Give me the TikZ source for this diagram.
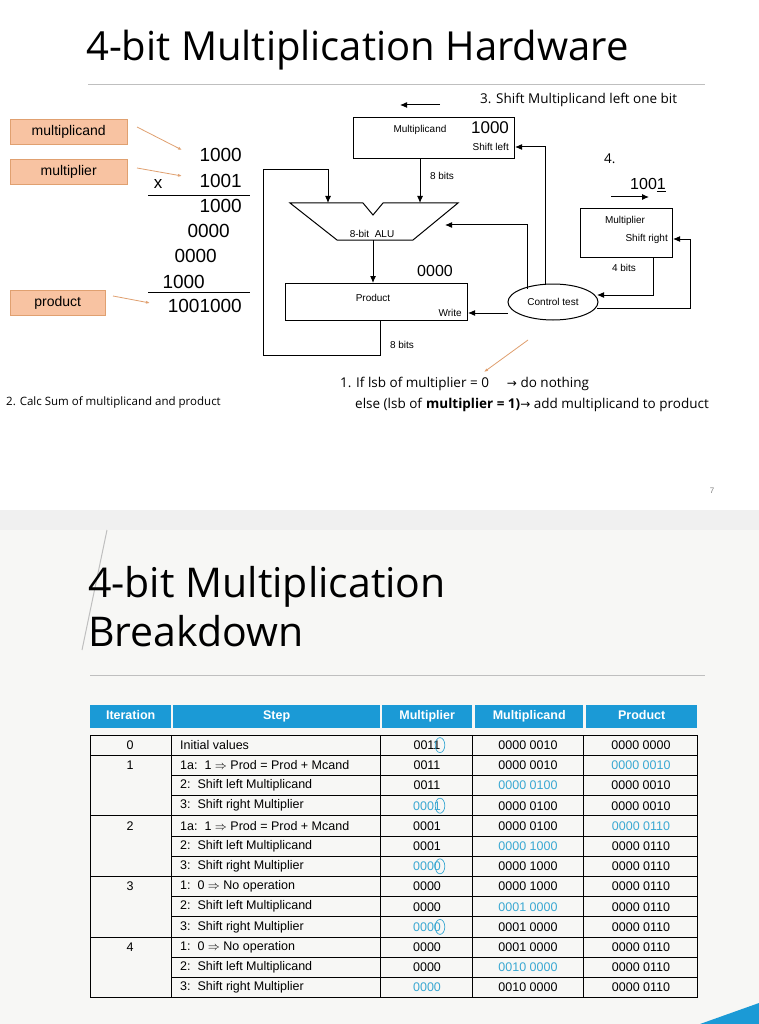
\documentclass[tikz,border=0pt]{standalone}
\usepackage{fontspec}
\setmainfont{Liberation Sans}
\newfontfamily\ttl{Open Sans}
\usetikzlibrary{arrows.meta,shapes.geometric}
\definecolor{orfill}{HTML}{F8C3A2}
\definecolor{orline}{HTML}{E0A070}
\definecolor{hdr}{HTML}{1B9AD6}
\definecolor{cy}{HTML}{3AA8D2}
\definecolor{bg2}{HTML}{F7F7F5}
\tikzset{
 x=1pt,y=-1pt,
 wire/.style={line width=1pt},
 arr/.style={wire,-{Latex[length=7pt,width=6pt]}},
 oarr/.style={orline,line width=0.8pt,-{Latex[length=4pt,width=3pt]}},
 lab/.style={draw=orline,fill=orfill,minimum height=25pt,font=\fontsize{14}{16}\selectfont,inner sep=2pt},
 big/.style={font=\fontsize{19}{21}\selectfont,inner sep=0pt},
 sm/.style={font=\fontsize{10}{12}\selectfont,inner sep=1pt},
 note/.style={font=\ttl\fontsize{13.5}{15}\selectfont,inner sep=0pt,anchor=west},
 cell/.style={font=\fontsize{12.5}{14}\selectfont,inner sep=0pt},
 hcell/.style={fill=hdr,text=white,font=\bfseries\fontsize{12.5}{14}\selectfont,inner sep=0pt,text height=9pt,text depth=2.5pt},
}
\newcommand{\trow}[6]{%
 \pgfmathsetmacro{\yc}{735+(#1+0.5)*20.2}
 \node[cell,anchor=west] (s#1) at (180,\yc) {#2};
 \node[cell] (m#1) at (427,\yc) {#3};
 \node[cell] (c#1) at (528,\yc) {#4};
 \node[cell] (p#1) at (641,\yc) {#5};
 \ifx#6y\draw[cy,line width=0.7pt] (440,\yc) ellipse (4.8 and 7.5);\fi
}
\begin{document}
\begin{tikzpicture}
\useasboundingbox (0,0) rectangle (759,1024);
\fill[white] (0,0) rectangle (759,510);
\fill[gray!12] (0,510) rectangle (759,530);
\fill[bg2] (0,530) rectangle (759,1024);
\draw[gray!50,line width=1pt] (107,530) -- (82,650);
\fill[hdr] (700,1024) -- (759,1024) -- (759,1003) -- cycle;
% ===== top slide
\node[font=\ttl\fontsize{40}{44}\selectfont,anchor=west,inner sep=0pt] (t1) at (86,50) {4-bit Multiplication Hardware};
\draw[gray!50,line width=0.8pt] (88,84) -- (705,84);
\node[note] (n3) at (480,100) {3. Shift Multiplicand left one bit};
\node[note,font=\ttl\fontsize{11.5}{13}\selectfont] (n2) at (6,402) {2. Calc Sum of multiplicand and product};
\node[note] (n1a) at (340,384) {1. If lsb of multiplier = 0\hspace{18pt}\fontspec{DejaVu Sans}\fontsize{12}{14}\selectfont→\ttl\fontsize{13.5}{15}\selectfont{} do nothing};
\node[note] (n1b) at (355,405) {else (lsb of \textbf{multiplier = 1)}\fontspec{DejaVu Sans}\fontsize{12}{14}\selectfont→\ttl\fontsize{13.5}{15}\selectfont{} add multiplicand to product};
\node[font=\fontsize{8}{9}\selectfont,text=gray] (pg) at (712,491) {7};
% labels
\node[lab,anchor=north west,minimum width=117pt] (lmc) at (10,119) {multiplicand};
\node[lab,anchor=north west,minimum width=117pt] (lmp) at (10,159) {multiplier};
\node[lab,anchor=north west,minimum width=95pt] (lpr) at (10,290) {product};
% long multiplication
\node[big,anchor=east] (a1) at (242,155) {1000};
\node[big,anchor=east] (a2) at (242,181) {1001};
\node[big,font=\fontsize{17}{19}\selectfont] (ax) at (158,184) {x};
\draw[line width=0.8pt] (148,195) -- (250,195);
\node[big,anchor=east] (a3) at (242,206) {1000};
\node[big,anchor=east] (a4) at (230,231) {0000};
\node[big,anchor=east] (a5) at (217,256) {0000};
\node[big,anchor=east] (a6) at (205,282) {1000};
\draw[line width=0.8pt] (148,292) -- (250,292);
\node[big,anchor=east] (a7) at (242,306) {1001000};
\coordinate (o1) at (137,127); \coordinate (o2) at (137,168); \coordinate (o3) at (113,296);
\coordinate (e1) at (182,150); \coordinate (e2) at (182,176); \coordinate (e3) at (150,303);
\draw[oarr] (o1) -- (e1);
\draw[oarr] (o2) -- (e2);
\draw[oarr] (o3) -- (e3);
% multiplicand box
\node[draw,line width=1pt,minimum width=161pt,minimum height=41pt,anchor=north west] (mc) at (353,117) {};
\node[sm] (mct) at (420,130) {Multiplicand};
\node[big,font=\fontsize{17}{19}\selectfont] (mcv) at (490,128) {1000};
\node[sm,anchor=east] (mcs) at (510,147) {Shift left};
\coordinate (la1) at (440,105); \coordinate (la2) at (400,105);
\draw[arr] (la1) -- (la2);
% ALU
\draw[line width=1pt] (290,203) -- (363,203) -- (373,215) -- (383,203) -- (458,203) -- (413,240) -- (337,240) -- cycle;
\node[sm] (alu) at (372,234) {8-bit\ \ ALU};
\coordinate (aluin1) at (328,203); \coordinate (aluin2) at (420,203);
\coordinate (aluout) at (373,240); \coordinate (aluc) at (445,225);
\draw[arr] (mc.south -| aluin2) -- (aluin2);
\node[sm] (b8a) at (442,176) {8 bits};
% product
\node[draw,line width=1pt,minimum width=182pt,minimum height=37pt,anchor=north west] (pr) at (285,283) {};
\node[sm] (prt) at (373,298) {Product};
\node[sm,anchor=east] (prw) at (463,313) {Write};
\node[big,font=\fontsize{16}{18}\selectfont] (pv) at (435,271) {0000};
\draw[arr] (aluout) -- (aluout |- pr.north);
\node[sm] (b8b) at (402,345) {8 bits};
\draw[arr] (pr.south -| 380,0) -- (380,355) -- (263,355) -- (263,170) -- (328,170) -- (aluin1);
% control
\node[draw,ellipse,line width=1pt,minimum width=90pt,minimum height=36pt,sm] (ct) at (553,302) {Control test};
\draw[arr] (ct.west |- 0,313) -- (pr.east |- 0,313);
\draw[arr] (545,285) -- (545,147) -- (mc.east |- 0,147);
\draw[arr] (527,289) -- (527,225) -- (aluc);
% multiplier
\node[draw,line width=1pt,minimum width=92pt,minimum height=49pt,anchor=north west] (mp) at (580,208) {};
\node[sm] (mpt) at (625,221) {Multiplier};
\node[sm,anchor=east] (mps) at (669,239) {Shift right};
\draw[arr] (653,257) -- (653,295) -- (597,295);
\node[sm] (b4) at (624,268) {4 bits};
\draw[arr] (597,308) -- (690,308) -- (690,239) -- (mp.east |- 0,239);
\node[note] (n4) at (604,159) {4.};
\node[big,font=\fontsize{16}{18}\selectfont] (mv) at (648,185) {100\underline{1}};
\coordinate (ra1) at (611,197); \coordinate (ra2) at (649,197);
\draw[arr] (ra1) -- (ra2);
\coordinate (oc1) at (528,340); \coordinate (oc2) at (484,372);
\draw[oarr] (oc1) -- (oc2);
% ===== bottom slide
\node[font=\ttl\fontsize{41}{49}\selectfont,anchor=north west,inner sep=0pt,align=left] (t2) at (88,566) {4-bit Multiplication\\Breakdown};
\draw[gray!50,line width=0.8pt] (90,675) -- (705,675);
% header
\node[hcell,minimum width=81pt,minimum height=23pt,anchor=north west] (h1) at (90,705) {Iteration};
\node[hcell,minimum width=207pt,minimum height=23pt,anchor=north west] (h2) at (173,705) {Step};
\node[hcell,minimum width=90pt,minimum height=23pt,anchor=north west] (h3) at (382,705) {Multiplier};
\node[hcell,minimum width=108pt,minimum height=23pt,anchor=north west] (h4) at (475,705) {Multiplicand};
\node[hcell,minimum width=111pt,minimum height=23pt,anchor=north west] (h5) at (586,705) {Product};
% grid
\draw[line width=1pt] (90,735) rectangle (697,997.6);
\foreach \x in {171,380,472,583} \draw[line width=0.8pt] (\x,735) -- (\x,997.6);
\foreach \i in {1,...,12} \draw[line width=0.8pt] (171,735+\i*20.2) -- (697,735+\i*20.2);
\foreach \i in {1,4,7,10} \draw[line width=0.8pt] (90,735+\i*20.2) -- (171,735+\i*20.2);
\foreach \i/\n in {0/0,1/1,4/2,7/3,10/4} \node[cell] (it\n) at (130,735+\i*20.2+10.1) {\n};
\trow{0}{Initial values}{0011}{0000 0010}{0000 0000}{y}
\trow{1}{1a:\ \ 1 $\Rightarrow$ Prod = Prod + Mcand}{0011}{0000 0010}{\textcolor{cy}{0000 0010}}{n}
\trow{2}{2:\ \ Shift left Multiplicand}{0011}{\textcolor{cy}{0000 0100}}{0000 0010}{n}
\trow{3}{3:\ \ Shift right Multiplier}{\textcolor{cy}{0001}}{0000 0100}{0000 0010}{y}
\trow{4}{1a:\ \ 1 $\Rightarrow$ Prod = Prod + Mcand}{0001}{0000 0100}{\textcolor{cy}{0000 0110}}{n}
\trow{5}{2:\ \ Shift left Multiplicand}{0001}{\textcolor{cy}{0000 1000}}{0000 0110}{n}
\trow{6}{3:\ \ Shift right Multiplier}{\textcolor{cy}{0000}}{0000 1000}{0000 0110}{y}
\trow{7}{1:\ \ 0 $\Rightarrow$ No operation}{0000}{0000 1000}{0000 0110}{n}
\trow{8}{2:\ \ Shift left Multiplicand}{0000}{\textcolor{cy}{0001 0000}}{0000 0110}{n}
\trow{9}{3:\ \ Shift right Multiplier}{\textcolor{cy}{0000}}{0001 0000}{0000 0110}{y}
\trow{10}{1:\ \ 0 $\Rightarrow$ No operation}{0000}{0001 0000}{0000 0110}{n}
\trow{11}{2:\ \ Shift left Multiplicand}{0000}{\textcolor{cy}{0010 0000}}{0000 0110}{n}
\trow{12}{3:\ \ Shift right Multiplier}{\textcolor{cy}{0000}}{0010 0000}{0000 0110}{n}
\end{tikzpicture}
\end{document}
